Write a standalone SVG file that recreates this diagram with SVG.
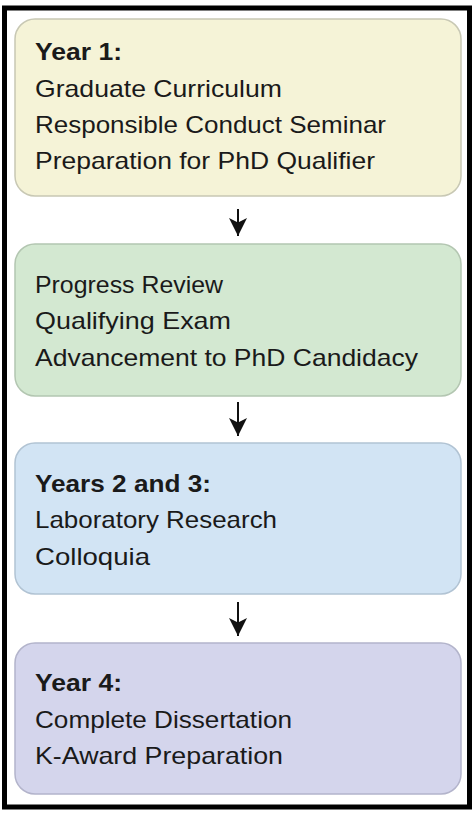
<svg xmlns="http://www.w3.org/2000/svg" width="474" height="816" viewBox="0 0 474 816">
<defs>
<style>
.box{stroke-width:1.5}
.t{font-family:"Liberation Sans","DejaVu Sans",sans-serif;font-size:24px;fill:#1a1a1a}
.b{font-weight:bold}
.c{stroke:#111;stroke-width:2;fill:none}
</style>
<marker id="ah" viewBox="0 0 10 10" refX="10" refY="5" markerWidth="18" markerHeight="19" markerUnits="userSpaceOnUse" orient="auto">
<path d="M0,0 L10,5 L0,10 L2.5,5 Z" fill="#111"/>
</marker>
</defs>
<rect x="0" y="0" width="474" height="816" fill="#fff"/>
<rect x="4.5" y="8" width="465" height="799" fill="none" stroke="#000" stroke-width="5"/>
<g id="node-year1">
<rect class="box" x="15" y="19" width="446" height="177" rx="20" fill="#f5f3d7" stroke="#c8c8b4"/>
<text class="t b" x="35" y="60" textLength="87" lengthAdjust="spacingAndGlyphs">Year 1:</text>
<text class="t" x="35" y="97" textLength="247" lengthAdjust="spacingAndGlyphs">Graduate Curriculum</text>
<text class="t" x="35" y="133" textLength="351" lengthAdjust="spacingAndGlyphs">Responsible Conduct Seminar</text>
<text class="t" x="35" y="169" textLength="340" lengthAdjust="spacingAndGlyphs">Preparation for PhD Qualifier</text>
</g>
<g id="node-qualify">
<rect class="box" x="15" y="244" width="446" height="152" rx="20" fill="#d3e8d1" stroke="#b3c6b1"/>
<text class="t" x="35" y="293" textLength="188" lengthAdjust="spacingAndGlyphs">Progress Review</text>
<text class="t" x="35" y="329" textLength="196" lengthAdjust="spacingAndGlyphs">Qualifying Exam</text>
<text class="t" x="35" y="366" textLength="383" lengthAdjust="spacingAndGlyphs">Advancement to PhD Candidacy</text>
</g>
<g id="node-years23">
<rect class="box" x="15" y="443" width="446" height="151" rx="20" fill="#d2e4f4" stroke="#b1c3d3"/>
<text class="t b" x="35" y="492" textLength="176" lengthAdjust="spacingAndGlyphs">Years 2 and 3:</text>
<text class="t" x="35" y="528" textLength="242" lengthAdjust="spacingAndGlyphs">Laboratory Research</text>
<text class="t" x="35" y="565" textLength="115" lengthAdjust="spacingAndGlyphs">Colloquia</text>
</g>
<g id="node-year4">
<rect class="box" x="15" y="643" width="446" height="151" rx="20" fill="#d4d5ec" stroke="#b3b4cb"/>
<text class="t b" x="35" y="691" textLength="87" lengthAdjust="spacingAndGlyphs">Year 4:</text>
<text class="t" x="35" y="728" textLength="257" lengthAdjust="spacingAndGlyphs">Complete Dissertation</text>
<text class="t" x="35" y="764" textLength="248" lengthAdjust="spacingAndGlyphs">K-Award Preparation</text>
</g>
<g id="connectors">
<line class="c" x1="238" y1="209" x2="238" y2="236" marker-end="url(#ah)"/>
<line class="c" x1="238" y1="402" x2="238" y2="436" marker-end="url(#ah)"/>
<line class="c" x1="238" y1="602" x2="238" y2="636" marker-end="url(#ah)"/>
</g>
</svg>
